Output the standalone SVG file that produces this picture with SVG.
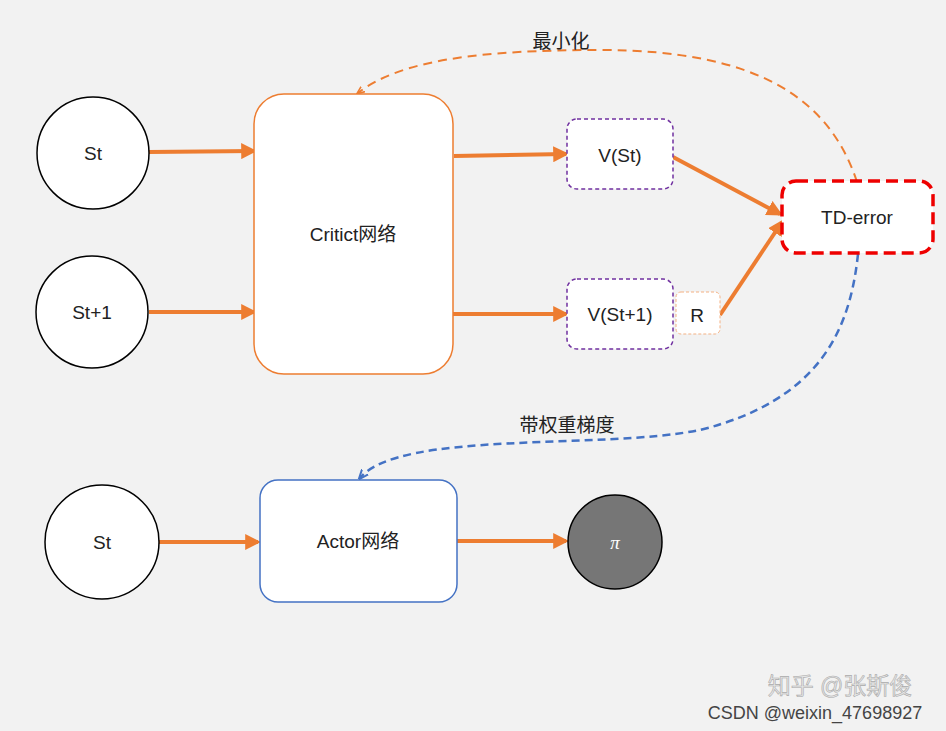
<svg xmlns="http://www.w3.org/2000/svg" width="946" height="731" viewBox="0 0 946 731">
<defs>
<style>
text{font-family:"Liberation Sans","Noto Sans CJK SC",sans-serif;font-size:19px;fill:#222;text-anchor:middle;dominant-baseline:central}
.c{fill:#fff;stroke:#000;stroke-width:1.5}
.e{stroke:#ed7d31;stroke-width:4;fill:none;marker-end:url(#a)}
</style>
<marker id="a" viewBox="0 0 10 10" refX="8" refY="5" markerWidth="4" markerHeight="4" orient="auto" markerUnits="strokeWidth"><path d="M0,0L10,5L0,10z" fill="#ed7d31"/></marker>
<marker id="ao" viewBox="0 0 10 10" refX="8" refY="5" markerWidth="8" markerHeight="8" orient="auto" markerUnits="userSpaceOnUse"><path d="M0,1L10,5L0,9" fill="none" stroke="#ed7d31" stroke-width="2"/></marker>
<marker id="ab" viewBox="0 0 10 10" refX="8" refY="5" markerWidth="10" markerHeight="10" orient="auto" markerUnits="userSpaceOnUse"><path d="M0,1L10,5L0,9" fill="none" stroke="#4472c4" stroke-width="2"/></marker>
</defs>
<rect width="946" height="731" fill="#f2f2f2"/>
<g id="connectors">
<path class="e" d="M149,152L254,151"/>
<path class="e" d="M149,312L254,312"/>
<path class="e" d="M454,156L566,154"/>
<path class="e" d="M450,314L566,314"/>
<path class="e" d="M673,157L780,214"/>
<path class="e" d="M720,315L782,222"/>
<path class="e" d="M159,542L258,542"/>
<path class="e" d="M457,541L566,541"/>
<path d="M857,182C830,100 760,50 600,50C480,50 400,60 358,93" fill="none" stroke="#ed7d31" stroke-width="2" stroke-dasharray="9,6" marker-end="url(#ao)"/>
<path d="M858,254C850,330 820,400 700,430C600,450 400,430 360,478" fill="none" stroke="#4472c4" stroke-width="2.5" stroke-dasharray="8,5" marker-end="url(#ab)"/>
</g>
<text x="561" y="41">最小化</text>
<text x="567" y="425">带权重梯度</text>
<g id="st1"><circle class="c" cx="93" cy="153" r="56"/><text x="93" y="153">St</text></g>
<g id="st2"><circle class="c" cx="92" cy="312" r="56"/><text x="92" y="312">St+1</text></g>
<g id="st3"><circle class="c" cx="102" cy="542" r="57"/><text x="102" y="542">St</text></g>
<g id="critic"><rect x="254" y="94" width="199" height="280" rx="30" fill="#fff" stroke="#ed7d31" stroke-width="1.5"/><text x="353" y="234">Critict网络</text></g>
<g id="actor"><rect x="260" y="480" width="197" height="122" rx="18" fill="#fff" stroke="#4472c4" stroke-width="1.5"/><text x="358" y="541">Actor网络</text></g>
<g id="vst"><rect x="567" y="119" width="106" height="70" rx="10" fill="#fff" stroke="#7030a0" stroke-width="1.5" stroke-dasharray="4,3"/><text x="620" y="155">V(St)</text></g>
<g id="vst1"><rect x="567" y="279" width="106" height="70" rx="10" fill="#fff" stroke="#7030a0" stroke-width="1.5" stroke-dasharray="4,3"/><text x="620" y="314">V(St+1)</text></g>
<g id="r"><rect x="676" y="292" width="44" height="42" rx="5" fill="#fff" stroke="#f4b183" stroke-width="1" stroke-dasharray="3,2"/><text x="697" y="315">R</text></g>
<g id="td"><rect x="782" y="181" width="151" height="72" rx="14" fill="#fff" stroke="#e00" stroke-width="3.5" stroke-dasharray="12,6"/><text x="857" y="217">TD-error</text></g>
<g id="pi"><circle cx="615" cy="542" r="47" fill="#767676" stroke="#000" stroke-width="1.5"/><text x="615" y="542" style="fill:#fff;font-style:italic;font-family:'Liberation Serif',serif">π</text></g>
<text x="840" y="686" style="font-size:23px;fill:#e6e6e6;stroke:#aaa;stroke-width:0.6">知乎 @张斯俊</text>
<text x="815" y="713" style="font-size:18px;fill:#444">CSDN @weixin_47698927</text>
</svg>
